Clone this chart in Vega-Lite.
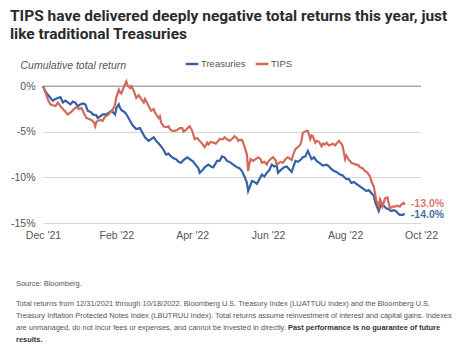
{
  "$schema": "https://vega.github.io/schema/vega-lite/v6.json",
  "width": 378,
  "height": 146,
  "autosize": {"type": "none"},
  "padding": {"left": 43, "top": 77, "right": 53, "bottom": 135},
  "background": "white",
  "config": {"font": "Liberation Sans", "view": {"stroke": null}},
  "title": {
    "text": ["TIPS have delivered deeply negative total returns this year, just", "like traditional Treasuries"],
    "anchor": "start",
    "frame": "group",
    "dx": -33,
    "offset": 14,
    "font": "Roboto",
    "fontSize": 15.5,
    "fontWeight": "bold",
    "color": "#2b2b2b",
    "lineHeight": 18
  },
  "datasets": {
    "returns": [
      {"series": "Treasuries", "date": "2021-12-31", "value": 0},
      {"series": "Treasuries", "date": "2022-01-02", "value": -0.6},
      {"series": "Treasuries", "date": "2022-01-06", "value": -1.3},
      {"series": "Treasuries", "date": "2022-01-08", "value": -1.6},
      {"series": "Treasuries", "date": "2022-01-10", "value": -1.4},
      {"series": "Treasuries", "date": "2022-01-14", "value": -1.2},
      {"series": "Treasuries", "date": "2022-01-16", "value": -1.8},
      {"series": "Treasuries", "date": "2022-01-18", "value": -1.6},
      {"series": "Treasuries", "date": "2022-01-22", "value": -2.0},
      {"series": "Treasuries", "date": "2022-01-24", "value": -1.7},
      {"series": "Treasuries", "date": "2022-01-26", "value": -1.8},
      {"series": "Treasuries", "date": "2022-01-28", "value": -2.2},
      {"series": "Treasuries", "date": "2022-01-30", "value": -2.0},
      {"series": "Treasuries", "date": "2022-02-01", "value": -1.9},
      {"series": "Treasuries", "date": "2022-02-03", "value": -2.0},
      {"series": "Treasuries", "date": "2022-02-05", "value": -2.7},
      {"series": "Treasuries", "date": "2022-02-08", "value": -2.9},
      {"series": "Treasuries", "date": "2022-02-09", "value": -3.1},
      {"series": "Treasuries", "date": "2022-02-12", "value": -3.2},
      {"series": "Treasuries", "date": "2022-02-13", "value": -3.5},
      {"series": "Treasuries", "date": "2022-02-16", "value": -3.2},
      {"series": "Treasuries", "date": "2022-02-17", "value": -3.1},
      {"series": "Treasuries", "date": "2022-02-20", "value": -3.1},
      {"series": "Treasuries", "date": "2022-02-22", "value": -2.9},
      {"series": "Treasuries", "date": "2022-02-24", "value": -2.7},
      {"series": "Treasuries", "date": "2022-02-27", "value": -3.1},
      {"series": "Treasuries", "date": "2022-02-28", "value": -2.4},
      {"series": "Treasuries", "date": "2022-03-02", "value": -2.0},
      {"series": "Treasuries", "date": "2022-03-03", "value": -2.4},
      {"series": "Treasuries", "date": "2022-03-04", "value": -2.6},
      {"series": "Treasuries", "date": "2022-03-07", "value": -2.9},
      {"series": "Treasuries", "date": "2022-03-09", "value": -3.3},
      {"series": "Treasuries", "date": "2022-03-11", "value": -3.8},
      {"series": "Treasuries", "date": "2022-03-13", "value": -4.3},
      {"series": "Treasuries", "date": "2022-03-16", "value": -4.7},
      {"series": "Treasuries", "date": "2022-03-19", "value": -4.6},
      {"series": "Treasuries", "date": "2022-03-21", "value": -5.1},
      {"series": "Treasuries", "date": "2022-03-23", "value": -5.6},
      {"series": "Treasuries", "date": "2022-03-26", "value": -6.0},
      {"series": "Treasuries", "date": "2022-03-28", "value": -5.8},
      {"series": "Treasuries", "date": "2022-03-30", "value": -5.6},
      {"series": "Treasuries", "date": "2022-04-01", "value": -6.0},
      {"series": "Treasuries", "date": "2022-04-03", "value": -6.3},
      {"series": "Treasuries", "date": "2022-04-05", "value": -6.6},
      {"series": "Treasuries", "date": "2022-04-07", "value": -7.0},
      {"series": "Treasuries", "date": "2022-04-09", "value": -7.5},
      {"series": "Treasuries", "date": "2022-04-11", "value": -7.4},
      {"series": "Treasuries", "date": "2022-04-13", "value": -7.7},
      {"series": "Treasuries", "date": "2022-04-15", "value": -7.9},
      {"series": "Treasuries", "date": "2022-04-17", "value": -8.0},
      {"series": "Treasuries", "date": "2022-04-19", "value": -8.3},
      {"series": "Treasuries", "date": "2022-04-21", "value": -8.4},
      {"series": "Treasuries", "date": "2022-04-23", "value": -8.1},
      {"series": "Treasuries", "date": "2022-04-26", "value": -7.8},
      {"series": "Treasuries", "date": "2022-04-28", "value": -8.0},
      {"series": "Treasuries", "date": "2022-05-01", "value": -8.3},
      {"series": "Treasuries", "date": "2022-05-02", "value": -8.5},
      {"series": "Treasuries", "date": "2022-05-05", "value": -9.0},
      {"series": "Treasuries", "date": "2022-05-06", "value": -9.5},
      {"series": "Treasuries", "date": "2022-05-09", "value": -9.1},
      {"series": "Treasuries", "date": "2022-05-10", "value": -8.9},
      {"series": "Treasuries", "date": "2022-05-13", "value": -8.6},
      {"series": "Treasuries", "date": "2022-05-15", "value": -8.8},
      {"series": "Treasuries", "date": "2022-05-17", "value": -8.9},
      {"series": "Treasuries", "date": "2022-05-20", "value": -8.2},
      {"series": "Treasuries", "date": "2022-05-22", "value": -8.2},
      {"series": "Treasuries", "date": "2022-05-24", "value": -7.7},
      {"series": "Treasuries", "date": "2022-05-26", "value": -7.8},
      {"series": "Treasuries", "date": "2022-05-28", "value": -8.2},
      {"series": "Treasuries", "date": "2022-05-30", "value": -8.3},
      {"series": "Treasuries", "date": "2022-06-02", "value": -8.6},
      {"series": "Treasuries", "date": "2022-06-05", "value": -8.9},
      {"series": "Treasuries", "date": "2022-06-07", "value": -9.0},
      {"series": "Treasuries", "date": "2022-06-09", "value": -9.3},
      {"series": "Treasuries", "date": "2022-06-11", "value": -9.9},
      {"series": "Treasuries", "date": "2022-06-13", "value": -10.6},
      {"series": "Treasuries", "date": "2022-06-14", "value": -11.5},
      {"series": "Treasuries", "date": "2022-06-16", "value": -10.8},
      {"series": "Treasuries", "date": "2022-06-17", "value": -10.4},
      {"series": "Treasuries", "date": "2022-06-19", "value": -10.5},
      {"series": "Treasuries", "date": "2022-06-21", "value": -10.7},
      {"series": "Treasuries", "date": "2022-06-23", "value": -10.2},
      {"series": "Treasuries", "date": "2022-06-25", "value": -9.7},
      {"series": "Treasuries", "date": "2022-06-27", "value": -9.9},
      {"series": "Treasuries", "date": "2022-06-29", "value": -9.5},
      {"series": "Treasuries", "date": "2022-07-01", "value": -9.2},
      {"series": "Treasuries", "date": "2022-07-03", "value": -8.6},
      {"series": "Treasuries", "date": "2022-07-05", "value": -8.8},
      {"series": "Treasuries", "date": "2022-07-07", "value": -8.7},
      {"series": "Treasuries", "date": "2022-07-08", "value": -9.5},
      {"series": "Treasuries", "date": "2022-07-11", "value": -9.1},
      {"series": "Treasuries", "date": "2022-07-13", "value": -8.9},
      {"series": "Treasuries", "date": "2022-07-15", "value": -8.8},
      {"series": "Treasuries", "date": "2022-07-17", "value": -9.1},
      {"series": "Treasuries", "date": "2022-07-19", "value": -9.4},
      {"series": "Treasuries", "date": "2022-07-22", "value": -8.2},
      {"series": "Treasuries", "date": "2022-07-24", "value": -8.3},
      {"series": "Treasuries", "date": "2022-07-26", "value": -8.1},
      {"series": "Treasuries", "date": "2022-07-28", "value": -7.8},
      {"series": "Treasuries", "date": "2022-07-30", "value": -7.7},
      {"series": "Treasuries", "date": "2022-08-01", "value": -7.1},
      {"series": "Treasuries", "date": "2022-08-04", "value": -8.0},
      {"series": "Treasuries", "date": "2022-08-06", "value": -7.8},
      {"series": "Treasuries", "date": "2022-08-08", "value": -8.2},
      {"series": "Treasuries", "date": "2022-08-11", "value": -8.5},
      {"series": "Treasuries", "date": "2022-08-13", "value": -8.7},
      {"series": "Treasuries", "date": "2022-08-16", "value": -8.6},
      {"series": "Treasuries", "date": "2022-08-18", "value": -8.8},
      {"series": "Treasuries", "date": "2022-08-20", "value": -9.1},
      {"series": "Treasuries", "date": "2022-08-22", "value": -9.3},
      {"series": "Treasuries", "date": "2022-08-24", "value": -9.4},
      {"series": "Treasuries", "date": "2022-08-27", "value": -9.7},
      {"series": "Treasuries", "date": "2022-08-29", "value": -9.8},
      {"series": "Treasuries", "date": "2022-09-01", "value": -10.2},
      {"series": "Treasuries", "date": "2022-09-03", "value": -10.2},
      {"series": "Treasuries", "date": "2022-09-05", "value": -10.6},
      {"series": "Treasuries", "date": "2022-09-07", "value": -10.5},
      {"series": "Treasuries", "date": "2022-09-09", "value": -10.7},
      {"series": "Treasuries", "date": "2022-09-11", "value": -10.9},
      {"series": "Treasuries", "date": "2022-09-13", "value": -11.1},
      {"series": "Treasuries", "date": "2022-09-15", "value": -11.3},
      {"series": "Treasuries", "date": "2022-09-17", "value": -11.5},
      {"series": "Treasuries", "date": "2022-09-19", "value": -11.4},
      {"series": "Treasuries", "date": "2022-09-21", "value": -11.7},
      {"series": "Treasuries", "date": "2022-09-23", "value": -12.0},
      {"series": "Treasuries", "date": "2022-09-24", "value": -12.6},
      {"series": "Treasuries", "date": "2022-09-25", "value": -13.0},
      {"series": "Treasuries", "date": "2022-09-27", "value": -13.7},
      {"series": "Treasuries", "date": "2022-09-28", "value": -13.3},
      {"series": "Treasuries", "date": "2022-09-29", "value": -13.0},
      {"series": "Treasuries", "date": "2022-10-01", "value": -13.1},
      {"series": "Treasuries", "date": "2022-10-03", "value": -13.4},
      {"series": "Treasuries", "date": "2022-10-05", "value": -13.5},
      {"series": "Treasuries", "date": "2022-10-07", "value": -13.7},
      {"series": "Treasuries", "date": "2022-10-09", "value": -13.6},
      {"series": "Treasuries", "date": "2022-10-11", "value": -13.7},
      {"series": "Treasuries", "date": "2022-10-13", "value": -14.0},
      {"series": "Treasuries", "date": "2022-10-14", "value": -14.1},
      {"series": "Treasuries", "date": "2022-10-16", "value": -14.1},
      {"series": "Treasuries", "date": "2022-10-18", "value": -14.0},
      {"series": "TIPS", "date": "2021-12-31", "value": 0},
      {"series": "TIPS", "date": "2022-01-02", "value": -0.7},
      {"series": "TIPS", "date": "2022-01-04", "value": -1.5},
      {"series": "TIPS", "date": "2022-01-06", "value": -2.0},
      {"series": "TIPS", "date": "2022-01-08", "value": -2.1},
      {"series": "TIPS", "date": "2022-01-10", "value": -2.2},
      {"series": "TIPS", "date": "2022-01-12", "value": -1.8},
      {"series": "TIPS", "date": "2022-01-14", "value": -2.2},
      {"series": "TIPS", "date": "2022-01-16", "value": -2.5},
      {"series": "TIPS", "date": "2022-01-18", "value": -2.8},
      {"series": "TIPS", "date": "2022-01-20", "value": -3.1},
      {"series": "TIPS", "date": "2022-01-23", "value": -2.8},
      {"series": "TIPS", "date": "2022-01-25", "value": -2.5},
      {"series": "TIPS", "date": "2022-01-27", "value": -2.3},
      {"series": "TIPS", "date": "2022-01-29", "value": -2.5},
      {"series": "TIPS", "date": "2022-01-31", "value": -2.4},
      {"series": "TIPS", "date": "2022-02-02", "value": -3.0},
      {"series": "TIPS", "date": "2022-02-04", "value": -3.5},
      {"series": "TIPS", "date": "2022-02-06", "value": -3.6},
      {"series": "TIPS", "date": "2022-02-08", "value": -3.7},
      {"series": "TIPS", "date": "2022-02-10", "value": -4.0},
      {"series": "TIPS", "date": "2022-02-11", "value": -4.4},
      {"series": "TIPS", "date": "2022-02-12", "value": -3.9},
      {"series": "TIPS", "date": "2022-02-15", "value": -3.7},
      {"series": "TIPS", "date": "2022-02-17", "value": -3.8},
      {"series": "TIPS", "date": "2022-02-19", "value": -3.3},
      {"series": "TIPS", "date": "2022-02-21", "value": -3.2},
      {"series": "TIPS", "date": "2022-02-23", "value": -2.9},
      {"series": "TIPS", "date": "2022-02-25", "value": -2.6},
      {"series": "TIPS", "date": "2022-02-27", "value": -2.0},
      {"series": "TIPS", "date": "2022-02-28", "value": -1.2},
      {"series": "TIPS", "date": "2022-03-02", "value": -0.4},
      {"series": "TIPS", "date": "2022-03-03", "value": -0.7},
      {"series": "TIPS", "date": "2022-03-04", "value": -0.8},
      {"series": "TIPS", "date": "2022-03-06", "value": -0.1},
      {"series": "TIPS", "date": "2022-03-08", "value": 0.5},
      {"series": "TIPS", "date": "2022-03-09", "value": 0.1},
      {"series": "TIPS", "date": "2022-03-11", "value": -0.2},
      {"series": "TIPS", "date": "2022-03-12", "value": 0.0},
      {"series": "TIPS", "date": "2022-03-14", "value": -0.5},
      {"series": "TIPS", "date": "2022-03-15", "value": -0.9},
      {"series": "TIPS", "date": "2022-03-16", "value": -1.3},
      {"series": "TIPS", "date": "2022-03-18", "value": -1.0},
      {"series": "TIPS", "date": "2022-03-19", "value": -1.2},
      {"series": "TIPS", "date": "2022-03-22", "value": -1.8},
      {"series": "TIPS", "date": "2022-03-23", "value": -1.4},
      {"series": "TIPS", "date": "2022-03-25", "value": -1.9},
      {"series": "TIPS", "date": "2022-03-26", "value": -2.2},
      {"series": "TIPS", "date": "2022-03-28", "value": -2.7},
      {"series": "TIPS", "date": "2022-03-30", "value": -2.5},
      {"series": "TIPS", "date": "2022-03-31", "value": -2.9},
      {"series": "TIPS", "date": "2022-04-03", "value": -3.5},
      {"series": "TIPS", "date": "2022-04-04", "value": -3.3},
      {"series": "TIPS", "date": "2022-04-05", "value": -4.0},
      {"series": "TIPS", "date": "2022-04-07", "value": -4.4},
      {"series": "TIPS", "date": "2022-04-09", "value": -4.5},
      {"series": "TIPS", "date": "2022-04-11", "value": -4.4},
      {"series": "TIPS", "date": "2022-04-12", "value": -4.7},
      {"series": "TIPS", "date": "2022-04-14", "value": -4.9},
      {"series": "TIPS", "date": "2022-04-16", "value": -4.9},
      {"series": "TIPS", "date": "2022-04-18", "value": -4.8},
      {"series": "TIPS", "date": "2022-04-20", "value": -4.6},
      {"series": "TIPS", "date": "2022-04-22", "value": -4.6},
      {"series": "TIPS", "date": "2022-04-23", "value": -5.0},
      {"series": "TIPS", "date": "2022-04-25", "value": -4.8},
      {"series": "TIPS", "date": "2022-04-27", "value": -4.5},
      {"series": "TIPS", "date": "2022-04-28", "value": -4.4},
      {"series": "TIPS", "date": "2022-04-30", "value": -4.9},
      {"series": "TIPS", "date": "2022-05-02", "value": -5.8},
      {"series": "TIPS", "date": "2022-05-04", "value": -5.7},
      {"series": "TIPS", "date": "2022-05-06", "value": -6.0},
      {"series": "TIPS", "date": "2022-05-08", "value": -6.3},
      {"series": "TIPS", "date": "2022-05-09", "value": -6.5},
      {"series": "TIPS", "date": "2022-05-10", "value": -6.7},
      {"series": "TIPS", "date": "2022-05-12", "value": -6.2},
      {"series": "TIPS", "date": "2022-05-13", "value": -6.4},
      {"series": "TIPS", "date": "2022-05-15", "value": -6.1},
      {"series": "TIPS", "date": "2022-05-17", "value": -6.2},
      {"series": "TIPS", "date": "2022-05-19", "value": -6.3},
      {"series": "TIPS", "date": "2022-05-21", "value": -6.0},
      {"series": "TIPS", "date": "2022-05-22", "value": -5.8},
      {"series": "TIPS", "date": "2022-05-25", "value": -5.8},
      {"series": "TIPS", "date": "2022-05-26", "value": -5.6},
      {"series": "TIPS", "date": "2022-05-28", "value": -5.8},
      {"series": "TIPS", "date": "2022-05-30", "value": -6.0},
      {"series": "TIPS", "date": "2022-06-01", "value": -5.8},
      {"series": "TIPS", "date": "2022-06-03", "value": -5.5},
      {"series": "TIPS", "date": "2022-06-05", "value": -5.7},
      {"series": "TIPS", "date": "2022-06-06", "value": -6.0},
      {"series": "TIPS", "date": "2022-06-07", "value": -5.9},
      {"series": "TIPS", "date": "2022-06-09", "value": -5.9},
      {"series": "TIPS", "date": "2022-06-10", "value": -6.2},
      {"series": "TIPS", "date": "2022-06-11", "value": -6.6},
      {"series": "TIPS", "date": "2022-06-13", "value": -7.5},
      {"series": "TIPS", "date": "2022-06-14", "value": -9.3},
      {"series": "TIPS", "date": "2022-06-15", "value": -8.5},
      {"series": "TIPS", "date": "2022-06-16", "value": -8.0},
      {"series": "TIPS", "date": "2022-06-18", "value": -8.2},
      {"series": "TIPS", "date": "2022-06-20", "value": -8.0},
      {"series": "TIPS", "date": "2022-06-22", "value": -7.8},
      {"series": "TIPS", "date": "2022-06-24", "value": -8.0},
      {"series": "TIPS", "date": "2022-06-25", "value": -8.4},
      {"series": "TIPS", "date": "2022-06-27", "value": -8.3},
      {"series": "TIPS", "date": "2022-06-29", "value": -8.6},
      {"series": "TIPS", "date": "2022-06-30", "value": -8.3},
      {"series": "TIPS", "date": "2022-07-02", "value": -8.0},
      {"series": "TIPS", "date": "2022-07-04", "value": -7.8},
      {"series": "TIPS", "date": "2022-07-06", "value": -8.1},
      {"series": "TIPS", "date": "2022-07-07", "value": -8.6},
      {"series": "TIPS", "date": "2022-07-08", "value": -8.5},
      {"series": "TIPS", "date": "2022-07-10", "value": -8.3},
      {"series": "TIPS", "date": "2022-07-12", "value": -8.4},
      {"series": "TIPS", "date": "2022-07-14", "value": -8.0},
      {"series": "TIPS", "date": "2022-07-15", "value": -7.9},
      {"series": "TIPS", "date": "2022-07-16", "value": -7.8},
      {"series": "TIPS", "date": "2022-07-18", "value": -8.0},
      {"series": "TIPS", "date": "2022-07-19", "value": -8.1},
      {"series": "TIPS", "date": "2022-07-20", "value": -7.6},
      {"series": "TIPS", "date": "2022-07-22", "value": -6.9},
      {"series": "TIPS", "date": "2022-07-23", "value": -6.8},
      {"series": "TIPS", "date": "2022-07-26", "value": -6.4},
      {"series": "TIPS", "date": "2022-07-27", "value": -5.9},
      {"series": "TIPS", "date": "2022-07-28", "value": -5.1},
      {"series": "TIPS", "date": "2022-07-31", "value": -4.9},
      {"series": "TIPS", "date": "2022-08-01", "value": -4.9},
      {"series": "TIPS", "date": "2022-08-03", "value": -5.8},
      {"series": "TIPS", "date": "2022-08-04", "value": -5.4},
      {"series": "TIPS", "date": "2022-08-05", "value": -5.5},
      {"series": "TIPS", "date": "2022-08-07", "value": -6.2},
      {"series": "TIPS", "date": "2022-08-08", "value": -6.0},
      {"series": "TIPS", "date": "2022-08-10", "value": -6.1},
      {"series": "TIPS", "date": "2022-08-12", "value": -6.6},
      {"series": "TIPS", "date": "2022-08-13", "value": -6.3},
      {"series": "TIPS", "date": "2022-08-15", "value": -6.4},
      {"series": "TIPS", "date": "2022-08-16", "value": -6.2},
      {"series": "TIPS", "date": "2022-08-18", "value": -6.5},
      {"series": "TIPS", "date": "2022-08-20", "value": -6.4},
      {"series": "TIPS", "date": "2022-08-21", "value": -6.3},
      {"series": "TIPS", "date": "2022-08-23", "value": -6.5},
      {"series": "TIPS", "date": "2022-08-24", "value": -6.3},
      {"series": "TIPS", "date": "2022-08-26", "value": -6.0},
      {"series": "TIPS", "date": "2022-08-27", "value": -6.2},
      {"series": "TIPS", "date": "2022-08-28", "value": -6.3},
      {"series": "TIPS", "date": "2022-08-29", "value": -6.6},
      {"series": "TIPS", "date": "2022-08-31", "value": -8.0},
      {"series": "TIPS", "date": "2022-09-01", "value": -7.6},
      {"series": "TIPS", "date": "2022-09-03", "value": -8.1},
      {"series": "TIPS", "date": "2022-09-04", "value": -8.2},
      {"series": "TIPS", "date": "2022-09-05", "value": -8.4},
      {"series": "TIPS", "date": "2022-09-07", "value": -8.5},
      {"series": "TIPS", "date": "2022-09-09", "value": -8.6},
      {"series": "TIPS", "date": "2022-09-11", "value": -8.7},
      {"series": "TIPS", "date": "2022-09-12", "value": -8.9},
      {"series": "TIPS", "date": "2022-09-14", "value": -9.0},
      {"series": "TIPS", "date": "2022-09-16", "value": -9.3},
      {"series": "TIPS", "date": "2022-09-18", "value": -9.5},
      {"series": "TIPS", "date": "2022-09-20", "value": -9.9},
      {"series": "TIPS", "date": "2022-09-21", "value": -10.4},
      {"series": "TIPS", "date": "2022-09-23", "value": -11.0},
      {"series": "TIPS", "date": "2022-09-24", "value": -11.7},
      {"series": "TIPS", "date": "2022-09-25", "value": -12.5},
      {"series": "TIPS", "date": "2022-09-27", "value": -13.2},
      {"series": "TIPS", "date": "2022-09-28", "value": -12.4},
      {"series": "TIPS", "date": "2022-09-29", "value": -12.7},
      {"series": "TIPS", "date": "2022-09-30", "value": -13.2},
      {"series": "TIPS", "date": "2022-10-01", "value": -12.8},
      {"series": "TIPS", "date": "2022-10-02", "value": -12.3},
      {"series": "TIPS", "date": "2022-10-04", "value": -12.2},
      {"series": "TIPS", "date": "2022-10-05", "value": -12.8},
      {"series": "TIPS", "date": "2022-10-06", "value": -13.4},
      {"series": "TIPS", "date": "2022-10-08", "value": -13.2},
      {"series": "TIPS", "date": "2022-10-10", "value": -13.2},
      {"series": "TIPS", "date": "2022-10-12", "value": -13.1},
      {"series": "TIPS", "date": "2022-10-14", "value": -13.2},
      {"series": "TIPS", "date": "2022-10-15", "value": -13.0},
      {"series": "TIPS", "date": "2022-10-17", "value": -12.8},
      {"series": "TIPS", "date": "2022-10-18", "value": -13.0}
    ],
    "ends": [
      {"series": "TIPS", "date": "2022-10-18", "value": -13.0, "label": "-13.0%"},
      {"series": "Treasuries", "date": "2022-10-18", "value": -14.0, "label": "-14.0%"}
    ]
  },
  "layer": [
    {
      "data": {"values": [{}]},
      "mark": {"type": "rule", "color": "#8c8c8c", "strokeWidth": 1},
      "encoding": {"y": {"datum": 0, "type": "quantitative", "scale": {"domain": [-15, 1], "nice": false}}}
    },
    {
      "data": {"name": "returns"},
      "mark": {"type": "line", "strokeWidth": 2.2, "clip": false},
      "encoding": {
        "x": {
          "field": "date",
          "type": "temporal",
          "scale": {"type": "utc", "nice": false, "domain": [{"year": 2021, "month": 12, "date": 31, "utc": true}, {"year": 2022, "month": 10, "date": 31, "utc": true}]},
          "axis": {
            "title": null,
            "values": [
              {"year": 2021, "month": 12, "date": 31, "utc": true},
              {"year": 2022, "month": 2, "date": 28, "utc": true},
              {"year": 2022, "month": 4, "date": 30, "utc": true},
              {"year": 2022, "month": 6, "date": 30, "utc": true},
              {"year": 2022, "month": 8, "date": 31, "utc": true},
              {"year": 2022, "month": 10, "date": 31, "utc": true}
            ],
            "format": "%b '%y",
            "grid": false,
            "domain": false,
            "ticks": false,
            "labelPadding": 7,
            "labelFontSize": 10.5,
            "labelColor": "#555555",
            "labelFlush": false,
            "labelOverlap": false
          }
        },
        "y": {
          "field": "value",
          "type": "quantitative",
          "scale": {"domain": [-15, 1], "nice": false},
          "axis": {
            "title": "Cumulative total return",
            "titleAngle": 0,
            "titleAlign": "left",
            "titleBaseline": "alphabetic",
            "titleX": -23,
            "titleY": -9,
            "titleFontStyle": "italic",
            "titleFontWeight": "normal",
            "titleFontSize": 10.5,
            "titleColor": "#555555",
            "values": [0, -5, -10, -15],
            "labelExpr": "datum.value + '%'",
            "grid": true,
            "gridColor": "#d9d9d9",
            "domain": false,
            "ticks": false,
            "labelPadding": 8,
            "labelFontSize": 10.5,
            "labelColor": "#555555"
          }
        },
        "color": {
          "field": "series",
          "type": "nominal",
          "scale": {"domain": ["Treasuries", "TIPS"], "range": ["#3461a6", "#d2695b"]},
          "legend": {
            "title": null,
            "orient": "none",
            "legendX": 141,
            "legendY": -21,
            "direction": "horizontal",
            "symbolType": "stroke",
            "symbolSize": 160,
            "symbolStrokeWidth": 2.5,
            "labelOffset": 1,
            "columnPadding": 4,
            "labelFontSize": 9.5,
            "labelColor": "#555555"
          }
        }
      }
    },
    {
      "data": {"name": "ends"},
      "transform": [{"filter": "datum.series === 'TIPS'"}],
      "mark": {"type": "text", "align": "left", "baseline": "middle", "dx": 6, "dy": -1, "fontSize": 10.5, "fontWeight": "bold", "color": "#d87a6f"},
      "encoding": {
        "x": {"field": "date", "type": "temporal"},
        "y": {"field": "value", "type": "quantitative"},
        "text": {"field": "label"}
      }
    },
    {
      "data": {"name": "ends"},
      "transform": [{"filter": "datum.series === 'Treasuries'"}],
      "mark": {"type": "text", "align": "left", "baseline": "middle", "dx": 6, "dy": 1, "fontSize": 10.5, "fontWeight": "bold", "color": "#4a6ea6"},
      "encoding": {
        "x": {"field": "date", "type": "temporal"},
        "y": {"field": "value", "type": "quantitative"},
        "text": {"field": "label"}
      }
    },
    {
      "data": {"values": [{}]},
      "mark": {"type": "text", "align": "left", "baseline": "middle", "fontSize": 7.45, "color": "#555555", "text": "Source: Bloomberg."},
      "encoding": {"x": {"value": -27}, "y": {"value": 207}}
    },
    {
      "data": {"values": [{}]},
      "mark": {"type": "text", "align": "left", "baseline": "middle", "fontSize": 7.45, "color": "#555555", "text": "Total returns from 12/31/2021 through 10/18/2022. Bloomberg U.S. Treasury Index (LUATTUU Index) and the Bloomberg U.S."},
      "encoding": {"x": {"value": -27}, "y": {"value": 226.5}}
    },
    {
      "data": {"values": [{}]},
      "mark": {"type": "text", "align": "left", "baseline": "middle", "fontSize": 7.45, "color": "#555555", "text": "Treasury Inflation Protected Notes Index (LBUTRUU Index). Total returns assume reinvestment of interest and capital gains. Indexes"},
      "encoding": {"x": {"value": -27}, "y": {"value": 238.5}}
    },
    {
      "data": {"values": [{}]},
      "mark": {"type": "text", "align": "left", "baseline": "middle", "fontSize": 7.45, "color": "#555555", "text": "are unmanaged, do not incur fees or expenses, and cannot be invested in directly."},
      "encoding": {"x": {"value": -27}, "y": {"value": 250.5}}
    },
    {
      "data": {"values": [{}]},
      "mark": {"type": "text", "align": "left", "baseline": "middle", "fontSize": 7.45, "fontWeight": "bold", "color": "#333333", "text": "Past performance is no guarantee of future"},
      "encoding": {"x": {"value": 245}, "y": {"value": 250.5}}
    },
    {
      "data": {"values": [{}]},
      "mark": {"type": "text", "align": "left", "baseline": "middle", "fontSize": 7.45, "fontWeight": "bold", "color": "#333333", "text": "results."},
      "encoding": {"x": {"value": -27}, "y": {"value": 263}}
    }
  ]
}
